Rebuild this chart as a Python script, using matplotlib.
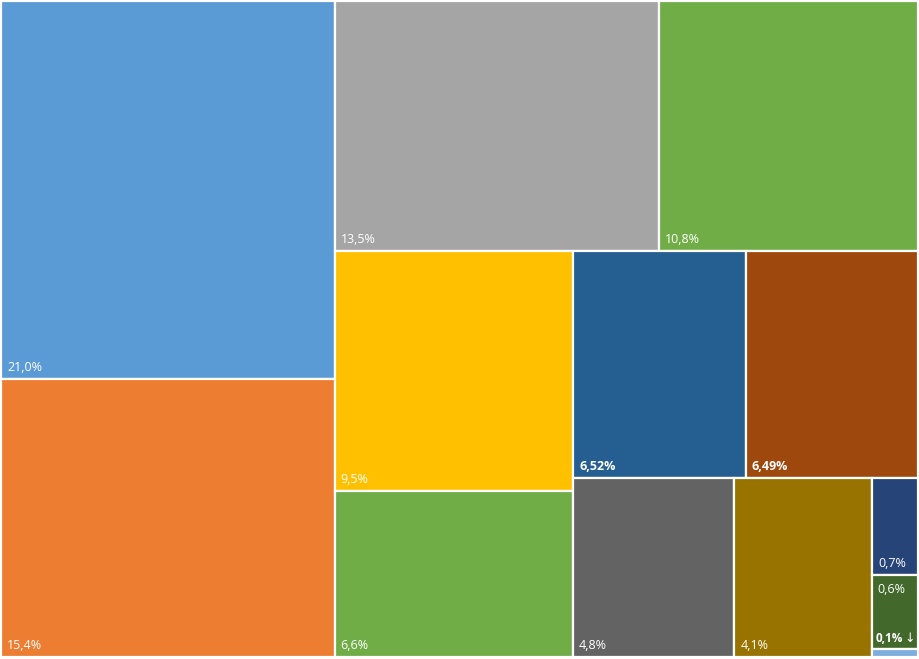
import matplotlib.pyplot as plt
from matplotlib.patches import Rectangle

labels = ["21,0%", "15,4%", "13,5%", "10,8%", "9,5%", "6,6%", "6,52%", "6,49%",
          "4,8%", "4,1%", "0,7%", "0,6%", ""]
values = [21.0, 15.4, 13.5, 10.8, 9.5, 6.6, 6.52, 6.49, 4.8, 4.1, 0.74, 0.56, 0.06]
colors = ["#5B9BD5", "#ED7D31", "#A5A5A5", "#70AD47", "#FFC000", "#70AD47",
          "#255E91", "#9E480E", "#636363", "#997300", "#264478", "#43682B", "#7CAFDD"]
bold = [False, False, False, False, False, False, True, True,
        False, False, False, False, False]

# nesting of the tiles: ('h', ...) splits left to right, ('v', ...) top to bottom
tree = ('h', ('v', 0, 1),
             ('v', ('h', 2, 3),
                   ('h', ('v', 4, 5),
                         ('v', ('h', 6, 7),
                               ('h', 8, 9, ('v', 10, 11, 12))))))


def total(node):
    if isinstance(node, int):
        return values[node]
    return sum(total(c) for c in node[1:])


rects = {}


def layout(node, x, y, w, h):
    if isinstance(node, int):
        rects[node] = (x, y, w, h)
        return
    s = total(node)
    for c in node[1:]:
        f = total(c) / s
        if node[0] == 'h':
            layout(c, x, y, w * f, h)
            x += w * f
        else:
            layout(c, x, y, w, h * f)
            y += h * f


W, H = 917, 656
layout(tree, 1, 1, W, H)

fig = plt.figure(figsize=(9.2, 6.59), dpi=100)
ax = fig.add_axes([0, 0, 1, 1])
ax.set_xlim(0, 920)
ax.set_ylim(659, 0)
ax.axis('off')

for i, (x, y, w, h) in rects.items():
    ax.add_patch(Rectangle((x, y), w, h, facecolor=colors[i], edgecolor='white', lw=1.6))
    if labels[i]:
        if i == 11:
            ax.text(x + 5, y + 8, labels[i], color='white', fontsize=9,
                    ha='left', va='top', family='Open Sans')
        else:
            ax.text(x + 6, y + h - 5, labels[i], color='white', fontsize=9,
                    ha='left', va='bottom', family='Open Sans',
                    fontweight='bold' if bold[i] else 'normal')

# the smallest tile is labelled from the one above it
x, y, w, h = rects[11]
ax.text(x + 3, y + h - 4, "0,1%", color='white', fontsize=8.5, ha='left', va='bottom',
        family='Open Sans', fontweight='bold')
ax.text(x + 32, y + h - 4, "\u2193", color='white', fontsize=9, ha='left', va='bottom',
        family='DejaVu Sans')

fig.savefig("out.png", dpi=100)
